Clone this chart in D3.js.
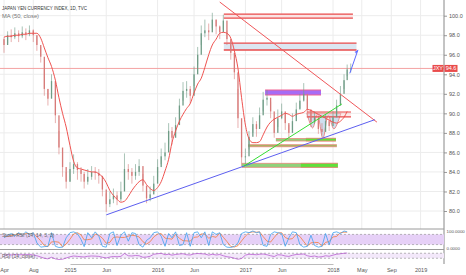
<!DOCTYPE html>
<html lang="en">
<head>
<meta charset="UTF-8">
<script src="https://cdn.jsdelivr.net/npm/d3@7/dist/d3.min.js"></script>
<style>
  body { margin: 0; background: #fff; }
  svg { display: block; font-family: "Liberation Sans", "DejaVu Sans", sans-serif; }
  .tick text { fill: #555; }
</style>
</head>
<body>
<script>
// semi-monthly candles, Apr 2014 .. Mar 2018
var startDate = new Date(2014, 3, 1);
var closes = [97.0,98.0,97.8,98.2,97.9,98.3,98.1,98.5,98.0,97.0,95.8,92.5,91.5,93.3,89.8,86.5,84.5,83.0,84.3,84.8,
  84.2,83.8,83.0,83.5,84.0,83.9,83.6,82.2,80.7,81.2,81.6,81.2,82.0,84.3,84.0,83.6,84.0,84.6,82.6,81.3,
  81.7,82.8,84.5,85.6,86.0,88.2,87.5,88.8,90.8,92.3,92.5,91.8,94.0,96.0,98.2,98.5,98.3,99.6,98.9,98.3,
  99.5,97.6,96.2,94.2,89.5,85.5,85.6,87.6,88.9,88.4,89.8,91.4,91.6,90.2,88.0,89.5,90.2,89.0,88.0,89.2,
  90.4,91.3,92.0,90.4,89.1,89.6,88.4,88.1,89.2,88.7,89.6,90.8,92.0,93.4,94.5,94.6];
var opens = [97.6,97.0,98.0,97.8,98.2,97.9,98.3,98.1,98.5,98.0,97.0,95.8,92.5,91.5,93.3,89.8,86.5,84.5,83.0,84.3,
  84.8,84.2,83.8,83.0,83.5,84.0,83.9,83.6,82.2,80.7,81.2,81.6,81.2,82.0,84.3,84.0,83.6,84.0,84.6,82.6,
  81.3,81.7,82.8,84.5,85.6,86.0,88.2,87.5,88.8,90.8,92.3,92.5,91.8,94.0,96.0,98.2,98.5,98.3,99.6,98.9,
  98.3,99.5,97.6,96.2,94.2,89.5,85.5,85.6,87.6,88.9,88.4,89.8,91.4,91.6,90.2,88.0,89.5,90.2,89.0,88.0,
  89.2,90.4,91.3,92.0,90.4,89.1,89.6,88.4,88.1,89.2,88.7,89.6,90.8,92.0,93.4,94.5];
var highs = [97.8,98.4,98.6,98.8,98.5,98.9,98.7,99.0,98.6,98.0,96.8,94.5,92.5,94.0,92.0,88.2,86.0,84.0,85.0,85.8,
  85.0,84.5,84.0,84.3,84.6,84.5,84.3,83.2,81.8,82.0,82.3,82.0,83.0,85.9,84.8,84.4,84.8,85.3,83.8,82.0,
  82.5,83.6,85.3,86.4,87.0,89.0,88.6,89.6,91.5,93.2,93.3,92.8,94.8,96.8,99.0,99.6,99.2,100.3,99.6,99.0,
  100.1,98.5,97.2,95.4,92.5,87.0,86.4,88.2,89.6,89.2,90.6,92.2,92.4,91.2,89.5,90.4,91.0,90.0,88.8,90.0,
  91.1,92.0,93.1,91.5,90.0,90.2,89.4,89.0,89.9,89.5,90.2,91.4,92.8,94.0,95.0,95.1];
var lows = [96.2,97.2,97.3,97.6,97.3,97.7,97.5,97.9,97.3,96.4,95.2,91.8,90.8,92.0,89.0,85.8,83.5,82.3,83.0,83.8,
  83.2,83.0,82.3,82.7,83.2,83.2,82.8,81.5,79.9,80.4,80.8,80.6,81.0,82.5,83.2,82.8,83.2,83.6,82.0,80.8,
  81.0,82.0,83.5,84.8,85.2,86.8,86.8,87.9,89.5,91.3,91.6,91.0,92.8,95.0,97.0,97.8,97.5,98.7,98.1,97.6,
  98.6,97.0,95.5,93.5,88.5,84.6,84.8,86.3,88.0,87.6,88.9,90.2,90.8,89.5,87.5,88.6,89.4,88.3,87.5,88.3,
  89.6,90.5,91.2,89.6,88.6,88.9,87.9,87.8,88.4,88.2,89.0,90.0,91.0,92.5,93.8,94.2];
var ma50 = [97.8,97.9,97.9,98.0,98.0,98.1,98.1,98.2,98.2,98.2,97.7,96.7,95.7,94.8,93.4,91.6,90.0,88.6,86.7,85.1,
  84.4,84.3,84.2,84.1,84.0,84.0,83.8,83.5,82.9,82.1,81.6,81.2,80.9,81.0,81.5,82.1,82.6,83.0,83.2,82.7,
  82.3,82.1,82.4,83.0,84.1,85.3,87.0,88.2,89.2,89.9,90.5,91.0,92.1,93.0,93.6,94.7,96.0,97.0,97.6,98.2,
  98.3,98.2,97.7,96.4,94.6,91.6,88.8,87.4,87.0,87.0,87.1,87.8,88.6,89.1,89.4,89.6,89.8,90.0,89.9,89.7,
  89.9,90.0,90.1,90.4,90.3,90.1,89.9,89.7,89.5,89.3,89.1,89.0,89.2,89.6,90.2];
var stochK = [60,75,85,70,90,75,95,80,90,30,5,8,10,90,10,3,5,60,90,95,85,50,8,90,60,95,70,10,5,85,
  95,15,75,95,40,90,85,20,5,45,60,90,95,70,10,85,60,95,15,20,90,10,90,95,60,95,15,95,80,90,
  20,5,3,10,30,85,95,90,100,90,95,15,10,80,95,90,85,10,60,95,90,20,5,10,75,15,5,10,85,20,
  90,95,85,100,95];
var stochD = [65,68,73,77,82,78,87,83,88,67,42,14,8,36,37,34,6,23,52,82,90,77,48,49,53,82,75,58,28,33,
  62,65,62,62,70,75,72,65,37,23,37,65,82,85,58,55,52,80,57,43,42,40,63,65,82,83,57,68,63,88,
  63,38,9,6,14,42,70,90,95,93,95,67,40,35,62,88,90,62,52,55,82,68,38,12,30,33,32,10,33,38,
  65,68,90,93,93];
var rsi = [55,58,56,60,57,59,58,60,56,50,40,30,25,38,25,20,22,32,42,48,45,42,40,46,48,47,45,38,32,40,
  44,42,45,68,50,48,52,50,38,40,46,62,66,70,58,62,55,60,64,66,58,56,65,68,66,64,55,62,56,60,
  50,42,38,30,22,28,55,62,60,58,62,64,58,50,44,58,56,48,45,54,60,62,64,50,44,48,40,42,50,46,
  55,62,66,70,72];

var priceTicks = [80, 82, 84, 86, 88, 90, 92, 94, 96, 98, 100];
var timeTicks = [[new Date(2014,3,1),"Apr"],[new Date(2014,7,1),"Aug"],[new Date(2015,0,1),"2015"],
  [new Date(2015,5,1),"Jun"],[new Date(2016,0,1),"2016"],[new Date(2016,5,1),"Jun"],
  [new Date(2017,0,1),"2017"],[new Date(2017,5,1),"Jun"],[new Date(2018,0,1),"2018"],
  [new Date(2018,4,1),"May"],[new Date(2018,8,1),"Sep"],[new Date(2019,0,1),"2019"]];
var lastPrice = 94.6;

// drawings [date, price]
var redTrend = [[new Date(2016,8,16), 101.4], [new Date(2018,6,3), 89.1]];
var blueTrend = [[new Date(2015,5,1), 79.6], [new Date(2018,5,24), 89.35]];
var greenTrend = [[new Date(2016,11,26), 84.6], [new Date(2018,1,7), 90.96]];
var arrowPath = [[new Date(2018,2,12), 94.1], [new Date(2018,3,15), 96.5]];
var redZones = [[new Date(2016,9,3), new Date(2018,2,25), 100.17, 99.76],
  [new Date(2016,9,3), new Date(2018,3,9), 97.2, 96.49],
  [new Date(2017,8,14), new Date(2018,2,17), 90.14, 89.63]];
var purpleZone = [new Date(2017,2,24), new Date(2017,10,12), 92.39, 91.88];
var greenZones = [[new Date(2017,4,8), new Date(2018,0,13), 87.42, 87.17],
  [new Date(2017,0,12), new Date(2018,0,17), 86.79, 86.58],
  [new Date(2016,11,17), new Date(2018,0,21), 84.88, 84.47]];
var greenBright = [[new Date(2017,8,10), new Date(2018,0,13), 87.45, 87.17],
  [new Date(2017,7,20), new Date(2018,0,21), 84.88, 84.47]];
var hsPattern = [[new Date(2017,8,14), 90.0], [new Date(2017,9,8), 88.5], [new Date(2017,9,28), 89.9],
  [new Date(2017,10,20), 87.4], [new Date(2017,11,12), 89.8], [new Date(2018,0,5), 88.4],
  [new Date(2018,1,3), 90.0]];

var W = 466, H = 275, axisX = 444;
var dates = closes.map(function (d, i) {
  return d3.timeDay.offset(d3.timeMonth.offset(startDate, Math.floor(i / 2)), (i % 2) * 15);
});

var svg = d3.select("body").append("svg").attr("width", W).attr("height", H);

var x = d3.scaleTime().domain([new Date(2015,0,1), new Date(2018,0,1)]).range([70, 333]);
var y = d3.scaleLinear().domain([80, 100]).range([211, 15.7]);
var ys = d3.scaleLinear().domain([0, 100]).range([248, 231]);
var yr = d3.scaleLinear().domain([0, 100]).range([262, 249.5]);

// grid
svg.append("g").selectAll("line").data(priceTicks).enter().append("line")
  .attr("x1", 0).attr("x2", axisX).attr("y1", function (d) { return y(d); }).attr("y2", function (d) { return y(d); })
  .attr("stroke", "#ececec").attr("stroke-width", 1);
svg.append("g").selectAll("line").data(timeTicks).enter().append("line")
  .attr("x1", function (d) { return x(d[0]); }).attr("x2", function (d) { return x(d[0]); })
  .attr("y1", 0).attr("y2", 229).attr("stroke", "#ececec");

// zones
function zone(z, fill, stroke, sw) {
  svg.append("rect").attr("x", x(z[0])).attr("width", x(z[1]) - x(z[0]))
    .attr("y", y(z[2])).attr("height", y(z[3]) - y(z[2]))
    .attr("fill", fill).attr("stroke", "none");
  [z[2], z[3]].forEach(function (p) {
    svg.append("line").attr("x1", x(z[0])).attr("x2", x(z[1])).attr("y1", y(p)).attr("y2", y(p))
      .attr("stroke", stroke).attr("stroke-width", sw);
  });
}
zone(redZones[0], "#fbe3e3", "#e94b4b", 1.3);
zone(redZones[1], "#dce6f1", "#e94b4b", 1.3);
zone(purpleZone, "#a66cf5", "#f06292", 1);
greenZones.forEach(function (z, i) {
  zone(z, i == 1 ? "#a0b860" : "#8fd27a", "#e8867a", 0.8);
});
greenBright.forEach(function (z) { zone(z, "#5fe03a", "#e8867a", 0.8); });

// head & shoulders shape
var hsLine = d3.line().x(function (d) { return x(d[0]); }).y(function (d) { return y(d[1]); })
  .curve(d3.curveCatmullRom);
svg.append("path").attr("d", hsLine(hsPattern) + "Z")
  .attr("fill", "#bfd4ea").attr("fill-opacity", 0.75).attr("stroke", "#e57373").attr("stroke-width", 0.8);
zone(redZones[2], "rgba(250,200,200,0.4)", "#e94b4b", 1.2);

// last price line
svg.append("line").attr("x1", 0).attr("x2", axisX).attr("y1", y(lastPrice)).attr("y2", y(lastPrice))
  .attr("stroke", "#f4a3a3").attr("stroke-width", 1);

// candles
var cg = svg.append("g");
closes.forEach(function (c, i) {
  var up = c >= opens[i];
  var col = up ? "#6f9c86" : "#d77a78";
  var cx = x(dates[i]);
  cg.append("line").attr("x1", cx).attr("x2", cx).attr("y1", y(highs[i])).attr("y2", y(lows[i]))
    .attr("stroke", col).attr("stroke-width", 0.6);
  var top = y(Math.max(c, opens[i])), bot = y(Math.min(c, opens[i]));
  cg.append("rect").attr("x", cx - 0.65).attr("width", 1.3)
    .attr("y", top).attr("height", Math.max(0.8, bot - top)).attr("fill", col);
});

// MA 50
var maLine = d3.line().x(function (d, i) { return x(dates[i]); }).y(function (d) { return y(d); })
  .curve(d3.curveMonotoneX);
svg.append("path").attr("d", maLine(ma50)).attr("fill", "none").attr("stroke", "#ef5350").attr("stroke-width", 1);

// trend lines
function seg(s, col) {
  svg.append("line").attr("x1", x(s[0][0])).attr("y1", y(s[0][1])).attr("x2", x(s[1][0])).attr("y2", y(s[1][1]))
    .attr("stroke", col).attr("stroke-width", 1);
}
seg(redTrend, "#f0575a");
seg(blueTrend, "#5d5ff0");
seg(greenTrend, "#33dd33");
seg(arrowPath, "#5d6bff");
var ax2 = x(arrowPath[1][0]), ay2 = y(arrowPath[1][1]);
svg.append("path").attr("d", "M" + ax2 + "," + ay2 + "l-3.5,2.2l1.3,0.6l0.2,1.5Z").attr("fill", "#5d6bff");

// price axis
var yAxis = svg.append("g").attr("transform", "translate(" + axisX + ",0)")
  .call(d3.axisRight(y).tickValues(priceTicks).tickSize(3).tickFormat(d3.format(".1f")));
yAxis.select(".domain").remove();
yAxis.selectAll("line").attr("stroke", "#999");
yAxis.selectAll("text").attr("font-size", 5.5).attr("dx", -1);
svg.append("line").attr("x1", axisX).attr("x2", axisX).attr("y1", 0).attr("y2", 264).attr("stroke", "#888");

// last price label
svg.append("rect").attr("x", 432.5).attr("y", y(lastPrice) - 3.5).attr("width", 11).attr("height", 7).attr("fill", "#e94b4b");
svg.append("rect").attr("x", 444.5).attr("y", y(lastPrice) - 3.5).attr("width", 13).attr("height", 7).attr("fill", "#e94b4b");
svg.append("text").attr("x", 438).attr("y", y(lastPrice) + 2).attr("text-anchor", "middle")
  .attr("font-size", 5.5).attr("fill", "#fff").text("JXY");
svg.append("text").attr("x", 451).attr("y", y(lastPrice) + 2).attr("text-anchor", "middle")
  .attr("font-size", 5.5).attr("fill", "#fff").text("94.6");

// panels
[229, 249.5].forEach(function (py) {
  svg.append("line").attr("x1", 0).attr("x2", axisX).attr("y1", py).attr("y2", py).attr("stroke", "#9a9a9a");
});
svg.append("rect").attr("x", 0).attr("width", axisX).attr("y", ys(80)).attr("height", ys(20) - ys(80)).attr("fill", "#e6d0f7");
svg.append("rect").attr("x", 0).attr("width", axisX).attr("y", yr(70)).attr("height", yr(30) - yr(70)).attr("fill", "#f3e8fa");
[[ys, 80], [ys, 20], [yr, 70], [yr, 30]].forEach(function (d) {
  svg.append("line").attr("x1", 0).attr("x2", axisX).attr("y1", d[0](d[1])).attr("y2", d[0](d[1]))
    .attr("stroke", "#8a8a8a").attr("stroke-width", 0.6).attr("stroke-dasharray", "2,2");
});

var sLine = function (sc) {
  return d3.line().x(function (d, i) { return x(dates[i]); }).y(function (d) { return sc(d); });
};
svg.append("path").attr("d", sLine(ys)(stochD)).attr("fill", "none").attr("stroke", "#f47c3c").attr("stroke-width", 0.8);
svg.append("path").attr("d", sLine(ys)(stochK)).attr("fill", "none").attr("stroke", "#3fa2f0").attr("stroke-width", 0.8);
svg.append("path").attr("d", sLine(yr)(rsi)).attr("fill", "none").attr("stroke", "#b04ccc").attr("stroke-width", 0.7);

svg.append("text").attr("x", 446.5).attr("y", ys(100) + 2).attr("font-size", 4.4).attr("fill", "#555").text("100.0000");
svg.append("text").attr("x", 446.5).attr("y", ys(0) + 2).attr("font-size", 4.4).attr("fill", "#555").text("0.0000");
svg.append("text").attr("x", 2).attr("y", 237).attr("font-size", 5).attr("fill", "#666").text("Stoch RSI (14, 14, 3, 3)");
svg.append("text").attr("x", 2).attr("y", 257.5).attr("font-size", 5).attr("fill", "#666").text("RSI (14, close)");

// time axis
var xAxis = svg.append("g").attr("transform", "translate(0,264)")
  .call(d3.axisBottom(x).tickValues(timeTicks.map(function (d) { return d[0]; })).tickSize(0)
    .tickFormat(function (d, i) { return timeTicks[i][1]; }));
xAxis.select(".domain").attr("stroke", "#bbb");
xAxis.selectAll("text").attr("font-size", 5.5).attr("dy", "0.9em");

// titles
svg.append("text").attr("x", 2).attr("y", 9.5).attr("font-size", 6.2).attr("fill", "#333")
  .attr("textLength", 85).attr("lengthAdjust", "spacingAndGlyphs").text("JAPAN YEN CURRENCY INDEX, 1D, TVC");
svg.append("text").attr("x", 2).attr("y", 18).attr("font-size", 5.8).attr("fill", "#777").text("MA (50, close)");
</script>
</body>
</html>
